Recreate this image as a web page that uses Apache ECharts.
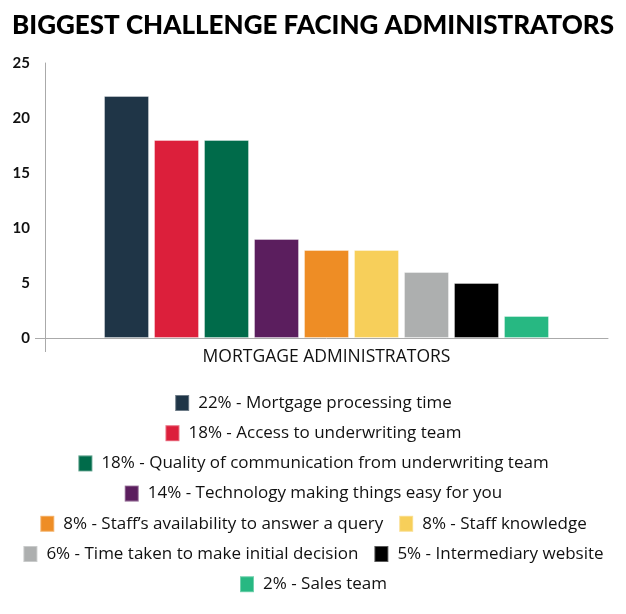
<!DOCTYPE html>
<html>
<head>
<meta charset="utf-8">
<script src="https://cdn.jsdelivr.net/npm/echarts@6/dist/echarts.min.js"></script>
<style>
html,body{margin:0;padding:0;background:#fff;}
#main{width:626px;height:614px;}
</style>
</head>
<body>
<div id="main"></div>
<script>
// data
var category = ['MORTGAGE ADMINISTRATORS'];
var names = [
	'22% - Mortgage processing time',
	'18% - Access to underwriting team',
	'18% - Quality of communication from underwriting team',
	'14% - Technology making things easy for you',
	'8% - Staff\u2019s availability to answer a query',
	'8% - Staff knowledge',
	'6% - Time taken to make initial decision',
	'5% - Intermediary website',
	'2% - Sales team'
];
var values = [22, 18, 18, 9, 8, 8, 6, 5, 2];
var colors = ['#1f3547', '#dc1f3b', '#006b4a', '#5b1e5e', '#ee8d25', '#f7cf5a', '#adafaf', '#000000', '#27b882'];
// which legend entries sit on each row
var legendRows = [[0], [1], [2], [3], [4, 5], [6, 7], [8]];

var myChart = echarts.init(document.getElementById('main'));

var series = [];
for (var i = 0; i < names.length; i++) {
	series.push({
		type: 'bar',
		name: names[i],
		data: [values[i]],
		barWidth: 45,
		barGap: '11.1%',
		itemStyle: {color: colors[i], borderColor: 'rgba(255,255,255,0.35)', borderWidth: 1}
	});
}

var legends = [];
for (var r = 0; r < legendRows.length; r++) {
	legends.push({
		left: 'center',
		top: 394 + r * 30.2,
		padding: 0,
		itemWidth: 14,
		itemHeight: 16,
		itemGap: 15,
		icon: 'rect',
		selectedMode: false,
		textStyle: {fontFamily: 'Open Sans', fontSize: 17, color: '#111', padding: [0, 0, 0, 4]},
		data: legendRows[r].map(function (k) { return names[k]; })
	});
}

option = {
	animation: false,
	color: colors,
	title: {
		text: 'BIGGEST CHALLENGE FACING ADMINISTRATORS',
		left: 'center',
		top: 8,
		textStyle: {fontFamily: 'Lato', fontWeight: 900, fontSize: 26, color: '#000'}
	},
	grid: {left: 45, right: 18, top: 63, bottom: 276},
	xAxis: {
		type: 'category',
		data: category,
		axisLine: {lineStyle: {color: '#aaa', width: 1}},
		axisTick: {show: false},
		axisLabel: {fontFamily: 'Open Sans', fontSize: 17.5, color: '#111', margin: 10}
	},
	yAxis: {
		type: 'value',
		min: 0,
		max: 25,
		interval: 5,
		splitLine: {show: false},
		axisLine: {show: true, lineStyle: {color: '#aaa', width: 1}},
		axisTick: {show: false},
		axisLabel: {fontFamily: 'Lato', fontSize: 15, fontWeight: 700, color: '#111', margin: 15}
	},
	legend: legends,
	series: series,
	graphic: [
		{type: 'line', shape: {x1: 35, y1: 338.5, x2: 45, y2: 338.5}, style: {stroke: '#aaa', lineWidth: 1}},
		{type: 'line', shape: {x1: 45.5, y1: 338, x2: 45.5, y2: 352}, style: {stroke: '#aaa', lineWidth: 1}}
	]
};
myChart.setOption(option, true);
</script>
</body>
</html>
